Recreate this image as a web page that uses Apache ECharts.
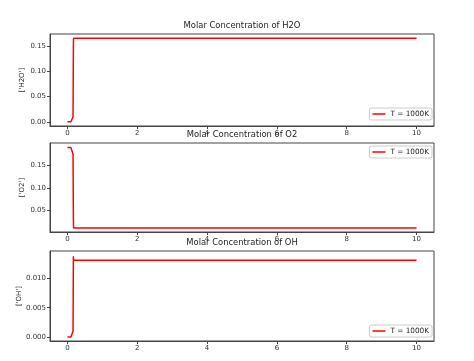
<!DOCTYPE html>
<html><head><meta charset="utf-8">
<script src="https://cdn.jsdelivr.net/npm/echarts@6/dist/echarts.min.js"></script>
<style>html,body{margin:0;padding:0;background:#fff}#c{width:474px;height:361px}</style>
</head><body><div id="c"></div>
<script>
const time = [0, 0.10, 0.14, 0.155, 0.16, 0.165, 0.17, 0.175, 10];
const h2o  = [0, 0, 0.0005, 0.002, 0.01, 0.08, 0.15, 0.165, 0.165];
const o2   = [0.190, 0.1895, 0.188, 0.186, 0.175, 0.10, 0.03, 0.0116, 0.0116];
const oh   = [0, 0, 0, 0.0001, 0.001, 0.007, 0.0138, 0.0131, 0.0131];
const xTicks = [0, 2, 4, 6, 8, 10];
const h2oTicks = [0, 0.05, 0.10, 0.15];
const o2Ticks = [0.05, 0.10, 0.15];
const ohTicks = [0, 0.005, 0.010];
const titles = ['Molar Concentration of H2O', 'Molar Concentration of O2', 'Molar Concentration of OH'];
const yNames = ["['H2O']", "['O2']", "['OH']"];
const seriesName = 'T = 1000K';

const FONT = 'DejaVu Sans';
const grids = [
  {left: 50, right: 40, top: 34, height: 92},
  {left: 50, right: 40, top: 143, height: 89},
  {left: 50, right: 40, top: 251, height: 90}
];
const yRanges = [[-0.0083, 0.1733], [0.0027, 0.1997], [-0.0007, 0.0147]];
const yTickSets = [h2oTicks, o2Ticks, ohTicks];
const yDec = [2, 2, 3];
const dataSets = [h2o, o2, oh];
const titleTops = [22, 131, 239];
const legendTops = [108, 146, 325];
const nameGaps = [24, 24, 27];

const option = {
  animation: false,
  title: titles.map((t, i) => ({
    text: t, left: 242, textAlign: 'center', top: titleTops[i], padding: 0,
    textStyle: {fontFamily: FONT, fontSize: 8.4, fontWeight: 'normal', color: '#222'}
  })),
  legend: legendTops.map((top, i) => ({
    data: [{name: seriesName, icon: 'rect'}], right: 42, top: top,
    padding: [2, 3, 2, 3], itemWidth: 13, itemHeight: 1.5, itemGap: 4,
    borderColor: '#ccc', borderWidth: 1, borderRadius: 2, backgroundColor: '#fff',
    textStyle: {fontFamily: FONT, fontSize: 7.3, color: '#222', lineHeight: 8}
  })),
  grid: grids.map(g => Object.assign({show: true, borderColor: '#444', borderWidth: 1, backgroundColor: 'transparent'}, g)),
  xAxis: grids.map((g, i) => ({
    type: 'value', gridIndex: i, min: -0.5, max: 10.5, position: 'bottom',
    splitLine: {show: false},
    axisLine: {show: true, onZero: false, lineStyle: {color: '#444', width: 1}},
    axisTick: {show: true, inside: false, length: 3, lineStyle: {color: '#444'}, customValues: xTicks},
    axisLabel: {fontFamily: FONT, fontSize: 7, color: '#333', margin: 4, customValues: xTicks,
      formatter: v => String(v)}
  })),
  yAxis: grids.map((g, i) => ({
    type: 'value', gridIndex: i, min: yRanges[i][0], max: yRanges[i][1], position: 'left',
    name: yNames[i], nameLocation: 'middle', nameGap: nameGaps[i], nameRotate: 90,
    nameMoveOverlap: false,
    nameTextStyle: {fontFamily: FONT, fontSize: 7, color: '#222'},
    splitLine: {show: false},
    axisLine: {show: true, onZero: false, lineStyle: {color: '#444', width: 1}},
    axisTick: {show: true, inside: false, length: 3, lineStyle: {color: '#444'}, customValues: yTickSets[i]},
    axisLabel: {fontFamily: FONT, fontSize: 7, color: '#333', margin: 4, customValues: yTickSets[i],
      formatter: v => Number(v).toFixed(yDec[i])}
  })),
  series: dataSets.map((d, i) => ({
    type: 'line', name: seriesName, xAxisIndex: i, yAxisIndex: i,
    symbol: 'none', showSymbol: false,
    lineStyle: {color: '#ff0000', width: 1.5},
    itemStyle: {color: '#ff0000'},
    data: time.map((t, k) => [t, d[k]])
  }))
};
const chart = echarts.init(document.getElementById('c'), null, {renderer: 'canvas'});
chart.setOption(option);
</script>
</body></html>
